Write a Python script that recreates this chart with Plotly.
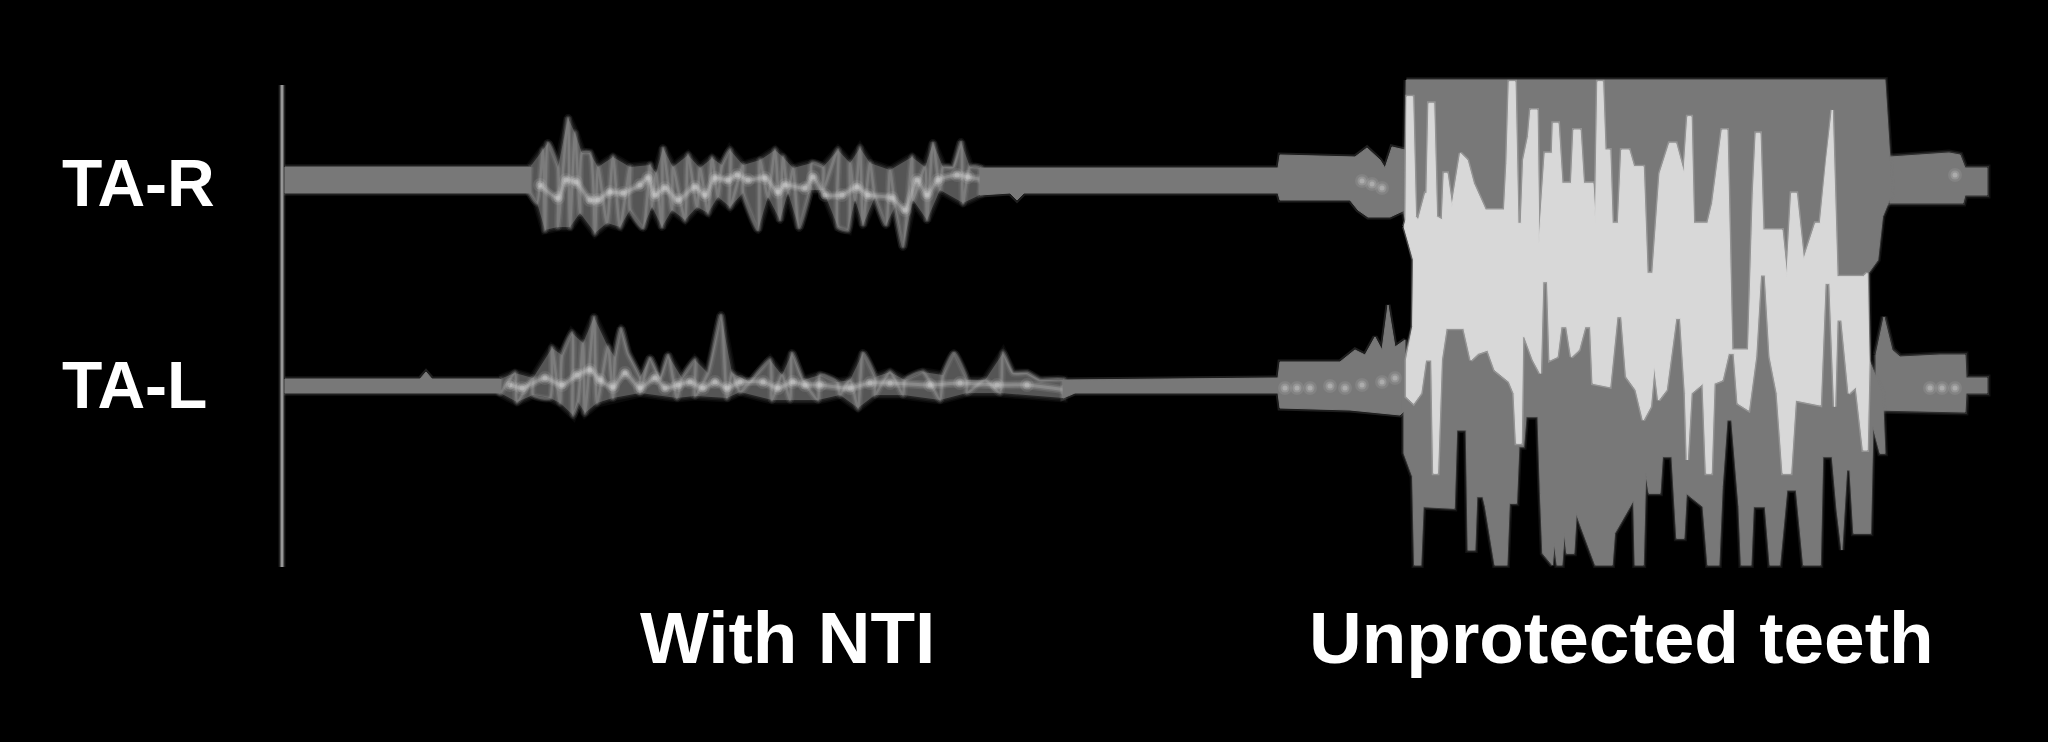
import plotly.graph_objects as go

# ---- EMG readings, low-activity and "With NTI" phases (time, level) ----
r_up_t = [285,530,543,548,558,568,575,582,590,598,613,630,650,656,663,673,688,700,712,722,730,743,760,775,783,793,812,823,838,850,860,870,890,912,925,933,943,953,961,970,980,1278,1280,1355,1367,1380,1385,1392,1405]
r_up_v = [167,167,150,143,167,118,133,153,153,167,157,167,165,173,148,167,155,168,158,165,150,165,160,150,157,168,163,167,150,163,148,163,170,157,167,143,167,167,142,167,168,168,155,157,148,160,168,147,150]
r_lo_t = [285,530,537,545,558,570,580,595,607,620,630,643,652,662,672,685,697,708,718,730,743,758,768,780,788,799,810,823,838,848,855,863,875,886,895,903,913,927,940,963,980,1010,1017,1024,1278,1280,1350,1358,1368,1390,1405]
r_lo_v = [193,193,203,230,227,227,213,233,223,227,210,228,207,227,210,220,207,213,197,207,193,230,197,220,193,228,190,190,227,230,200,225,197,225,207,247,200,220,190,203,195,193,200,193,193,200,200,210,217,217,210]
l_up_t = [285,420,426,432,500,515,533,552,562,572,583,594,608,615,621,628,640,650,660,668,682,695,708,721,732,750,770,782,792,803,820,837,850,863,875,890,905,923,943,954,967,985,1003,1013,1027,1040,1063,1278,1280,1340,1355,1365,1375,1382,1388,1395,1405]
l_up_v = [379,379,372,379,379,373,378,348,355,333,343,317,347,357,328,353,377,358,378,355,378,360,373,315,373,382,360,375,353,380,375,382,380,353,377,372,380,372,375,353,380,380,353,373,373,380,380,378,362,362,350,355,337,350,305,347,340]
l_lo_t = [285,500,517,533,550,560,573,578,585,597,613,640,677,695,727,740,772,790,818,840,858,875,903,940,967,1000,1063,1075,1278,1280,1350,1400,1405]
l_lo_v = [393,393,402,395,398,403,415,402,413,403,398,393,398,396,398,392,400,400,400,395,408,395,395,400,393,393,398,393,393,408,410,415,410]

# ---- bright ridge of each trace ----
r_ridge_t = [540,558,566,576,590,598,610,623,640,648,655,665,678,695,705,715,728,737,748,765,778,785,805,813,825,842,857,868,892,905,917,927,938,957,968,985]
r_ridge_v = [185,198,180,182,200,200,192,193,185,178,195,188,200,187,195,178,180,175,180,178,192,185,188,177,195,195,187,195,198,210,180,195,180,175,177,180]
l_ridge_t = [510,522,545,562,577,590,600,613,625,640,655,665,678,690,703,715,727,740,763,778,793,805,820,850,870,890,930,960,997,1027,1067]
l_ridge_v = [385,388,378,385,375,370,380,387,373,388,378,388,385,382,388,382,388,382,382,388,382,385,385,388,383,383,385,383,385,385,390]

# ---- after the burst ----
r_post_t = [1890,1949,1960,1965,1987,1987,1965,1963,1890]
r_post_v = [157,153,155,168,168,195,195,203,203]
l_post_t = [1876,1884,1892,1900,1940,1965,1966,1987,1987,1966,1965,1876]
l_post_v = [355,317,350,357,355,355,378,378,393,393,412,410]

# ---- burst, "Unprotected teeth": single grey outline ----
burst_t = [305,300,320,320,300,300,318,322,335,340,405,410,430,434,448,452,465,470,490,515,520,535,540,550,555,580,585,590,610,614,620,630,635,640,655,660,670,700,735,740,780,783,800,805,812,835,840,860,870,885,890,925,935,958,965,975,985,1000,1005,1025,1030,1055,1065,1085,1100,1120,1135,1170,1175,1195,1205,1215,1225,1232,1240,1275,1280,1295,1305,1300,1272,1270,1290,1300,1320,1310,1305]
burst_v = [60,460,600,800,900,1180,1250,1515,1515,1340,1345,1110,1110,1470,1470,1310,1310,1340,1515,1515,1330,1330,1160,1160,1070,1070,1300,1480,1515,1450,1515,1515,1420,1480,1480,1360,1400,1515,1515,1420,1320,1515,1515,1240,1300,1300,1190,1190,1435,1435,1300,1340,1515,1515,1280,1080,1080,1340,1515,1515,1340,1340,1515,1515,1290,1290,1515,1515,1190,1190,1350,1470,1230,1230,1420,1420,1100,1180,1180,1000,900,640,600,470,400,150,60]

# ---- burst: bright overlap of the two channels ----
over_top_t = [300,304,306,318,324,330,345,348,352,362,368,380,384,390,400,412,418,432,445,470,510,515,520,532,538,545,550,560,565,578,582,595,610,612,622,630,650,655,668,675,695,700,705,715,720,730,735,748,755,770,780,800,808,820,835,855,868,885,893,900,905,935,945,965,975,985,1020,1030,1036,1044,1050,1090,1100,1110,1120,1135,1160,1170,1183,1195,1205,1260,1268]
over_top_v = [500,480,110,110,470,480,400,400,130,130,470,480,340,340,440,330,280,300,370,450,450,310,65,65,490,490,300,230,150,150,550,280,280,190,190,370,370,210,210,370,370,490,65,65,270,270,490,490,270,270,320,320,640,640,340,250,250,340,170,170,490,490,430,210,210,870,870,400,220,220,510,510,650,400,400,600,490,490,300,150,650,650,640]
over_low_t = [320,318,305,305,320,335,345,358,362,370,378,388,392,425,440,455,475,490,520,530,535,545,548,552,570,585,590,600,605,620,628,640,650,665,678,690,695,730,745,755,765,785,800,815,823,832,848,868,878,888,892,900,925,932,942,948,965,978,990,998,1020,1035,1045,1055,1065,1080,1092,1108,1118,1170,1180,1190,1200,1205,1215,1230,1245,1260,1268,1272]
over_low_v = [600,800,900,1010,1030,1000,900,900,1240,1240,900,805,805,805,900,880,870,930,965,1000,1150,1150,830,830,900,940,665,665,900,890,800,800,890,870,800,800,970,980,770,770,950,990,1080,1040,915,1020,990,775,775,1000,1200,1000,970,1240,1240,970,960,880,880,1030,1050,890,645,645,890,1000,1240,1240,1020,1035,670,670,1040,780,780,1000,980,1170,1170,900]

# ---- small bright spots near the burst ----
spot_t = [1285,1297,1310,1330,1345,1362,1382,1395,1930,1942,1955]
spot_v = [388,388,388,386,388,385,382,378,388,388,388]
spot_r_t = [1362,1372,1382,1955]
spot_r_v = [181,184,188,175]

axis_t = [282,282]
axis_v = [85,567]

channel_labels = ["TA-R", "TA-L"]
condition_labels = ["With NTI", "Unprotected teeth"]

GREY = "120,120,120"
LIGHT = "216,216,216"
fig = go.Figure()


def soft_polygon(t, v, rgb, xa="x", ya="y", layers=((7, .15), (4, .3)), fill_line=1):
    t2, v2 = list(t) + [t[0]], list(v) + [v[0]]
    for w, a in layers:
        fig.add_trace(go.Scatter(x=t2, y=v2, xaxis=xa, yaxis=ya, mode="lines",
                                 line=dict(color=f"rgba({rgb},{a})", width=w)))
    fig.add_trace(go.Scatter(x=t2, y=v2, xaxis=xa, yaxis=ya, mode="lines", fill="toself",
                             fillcolor=f"rgb({rgb})", line=dict(color=f"rgb({rgb})", width=fill_line)))


def soft_line(t, v, rgb="225,225,225", layers=((8, .12), (5, .22), (2.5, .5)), smooth=0.6):
    for w, a in layers:
        fig.add_trace(go.Scatter(x=t, y=v, mode="lines",
                                 line=dict(color=f"rgba({rgb},{a})", width=w, shape="spline", smoothing=smooth)))


def soft_spots(t, v, rgb="215,215,215"):
    for s, a in ((14, .12), (9, .22), (5, .35)):
        fig.add_trace(go.Scatter(x=t, y=v, mode="markers", marker=dict(color=f"rgba({rgb},{a})", size=s)))


def zigzag(up_t, up_v, lo_t, lo_v, t0, t1):
    pts = sorted([(a, b) for a, b in zip(up_t, up_v) if t0 <= a <= t1] +
                 [(a, b) for a, b in zip(lo_t, lo_v) if t0 <= a <= t1])
    return [p[0] for p in pts], [p[1] for p in pts]


def outline_part(up_t, up_v, lo_t, lo_v, t0, t1):
    ut = [(a, b) for a, b in zip(up_t, up_v) if t0 <= a <= t1]
    lt = [(a, b) for a, b in zip(lo_t, lo_v) if t0 <= a <= t1]
    pts = ut + lt[::-1]
    return [p[0] for p in pts], [p[1] for p in pts]


soft_line(axis_t, axis_v, "170,170,170", ((7, .15), (4.5, .35), (2.5, .8)))

for up_t, up_v, lo_t, lo_v, ridge_t, ridge_v, t0, t1 in [
    (r_up_t, r_up_v, r_lo_t, r_lo_v, r_ridge_t, r_ridge_v, 530, 980),
    (l_up_t, l_up_v, l_lo_t, l_lo_v, l_ridge_t, l_ridge_v, 500, 1063),
]:
    pt, pv = outline_part(up_t, up_v, lo_t, lo_v, t0, t1)
    soft_polygon(pt, pv, "85,85,85", layers=((9, .12), (6, .18), (3, .25)), fill_line=0)
    zt, zv = zigzag(up_t, up_v, lo_t, lo_v, t0, t1)
    soft_line(zt, zv, "165,165,165", ((8, .1), (5, .18), (2.5, .3)))
    soft_line(ridge_t, ridge_v, layers=((9, .1), (6, .14), (3, .2)))
    soft_spots(ridge_t, ridge_v)

# resting bands on either side of the active cloud, in the plain trace grey
for up_t, up_v, lo_t, lo_v, spans in [
    (r_up_t, r_up_v, r_lo_t, r_lo_v, [(285, 530), (980, 1405)]),
    (l_up_t, l_up_v, l_lo_t, l_lo_v, [(285, 500), (1063, 1405)]),
]:
    for t0, t1 in spans:
        pt, pv = outline_part(up_t, up_v, lo_t, lo_v, t0, t1)
        soft_polygon(pt, pv, GREY, layers=((5, .25),))

soft_polygon(r_post_t, r_post_v, GREY)
soft_polygon(l_post_t, l_post_v, GREY)
soft_spots(spot_t, spot_v)
soft_spots(spot_r_t, spot_r_v)

soft_polygon(burst_t, burst_v, GREY, "x2", "y2", layers=((6, .15), (3, .35)))
soft_polygon(over_top_t + over_low_t[::-1], over_top_v + over_low_v[::-1], LIGHT, "x2", "y2", ((4, .3),))

label_font = dict(family="Liberation Sans", size=66, color="white", weight="bold")
for text, x, y in [(channel_labels[0], 60, 183), (channel_labels[1], 60, 385)]:
    fig.add_annotation(text=text, x=x, y=y, xref="x", yref="y", xanchor="left", yanchor="middle",
                       showarrow=False, font=label_font)
cond_font = dict(family="Liberation Sans", size=73, color="white", weight="bold")
for text, x, y in [(condition_labels[0], 787, 637), (condition_labels[1], 1621, 637)]:
    fig.add_annotation(text=text, x=x, y=y, xref="x", yref="y", xanchor="center", yanchor="middle",
                       showarrow=False, font=cond_font)

hidden = dict(visible=False, showgrid=False, zeroline=False)
fig.update_layout(
    width=2048, height=742, margin=dict(l=0, r=0, t=0, b=0),
    paper_bgcolor="black", plot_bgcolor="black", showlegend=False,
    xaxis=dict(range=[0, 2048], **hidden),
    yaxis=dict(range=[742, 0], **hidden),
    # burst was read on its own time/level scale
    xaxis2=dict(range=[-2634.4, 1645.9], overlaying="x", **hidden),
    yaxis2=dict(range=[2046, -180], overlaying="y", **hidden),
)
fig.write_html("out.html", config=dict(displayModeBar=False), post_script="document.body.style.margin='0';")
